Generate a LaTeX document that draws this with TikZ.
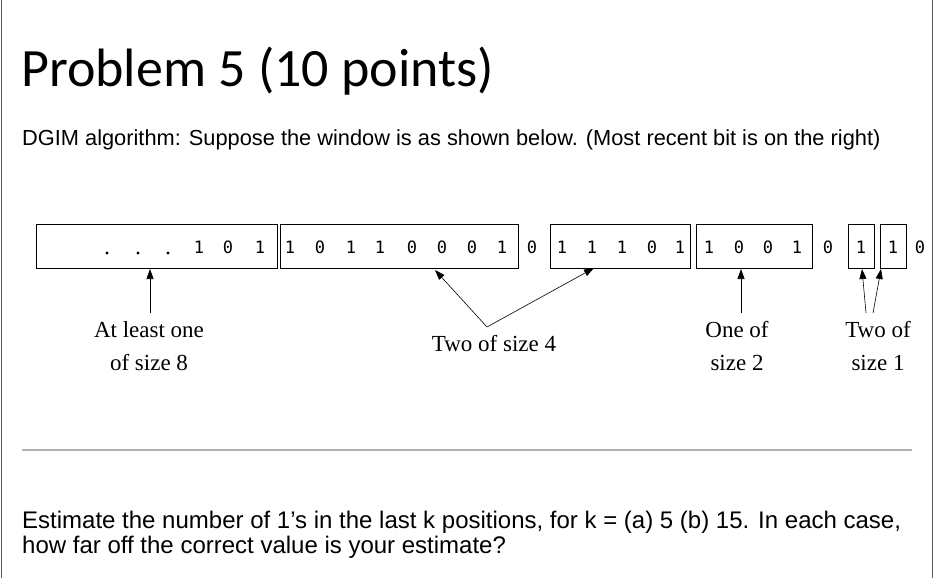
\documentclass[tikz,border=0pt]{standalone}
\usepackage{fontspec}
\setmainfont{Liberation Serif}
\newfontfamily\titlefont{Carlito}
\newfontfamily\arialfont{Liberation Sans}
\newfontfamily\monofont{DejaVu Sans Mono}
\usetikzlibrary{arrows.meta}
\begin{document}
\begin{tikzpicture}[x=1pt,y=-1pt,
  bitbox/.style={draw,line width=0.9pt,inner sep=0pt,anchor=north west},
  bits/.style={font=\monofont\fontsize{17}{17}\selectfont,inner sep=0pt},
  lab/.style={font=\fontsize{23}{33}\selectfont,align=center,inner sep=0pt},
  arr/.style={-{Triangle[length=10pt,width=7pt]},line width=0.6pt},
  body/.style={font=\arialfont\fontsize{21.8}{22}\selectfont,anchor=base west,inner sep=0pt,align=left}]
\useasboundingbox (0,0) rectangle (936,578);
\draw[line width=0.8pt,gray!70!black] (1,0) -- (1,578);
\draw[line width=0.8pt,gray!70!black] (932,0) -- (932,578);
\node[font=\titlefont\fontsize{54}{54}\selectfont,anchor=base west,inner sep=0pt] (title) at (21,86) {Problem 5 (10 points)};
\node[body] (intro) at (22,145) {DGIM algorithm: Suppose the window is as shown below. (Most recent bit is on the right)};
% boxes
\node[bitbox,minimum width=241pt,minimum height=44pt] (b8) at (36,224) {};
\node[bitbox,minimum width=238pt,minimum height=44pt] (b4a) at (280,224) {};
\node[bitbox,minimum width=140pt,minimum height=44pt] (b4b) at (550,224) {};
\node[bitbox,minimum width=116pt,minimum height=44pt] (b2) at (696,224) {};
\node[bitbox,minimum width=26pt,minimum height=44pt] (b1a) at (848,224) {};
\node[bitbox,minimum width=26pt,minimum height=44pt] (b1b) at (880,224) {};
\foreach \x [count=\i] in {107,138,168}
  \fill (\x,253) circle (1.7pt);
\foreach \x/\t [count=\i] in {199/1,228/0,260/1,290/1,320/0,351/1,380/1,412/0,442/0,472/0,502/1,532/0,562/1,592/1,622/1,652/0,680/1,709/1,739/0,768/0,797/1,828/0,861/1,893/1,920/0}
  \node[bits] (t\i) at (\x,247) {\t};
% labels
\node[lab] (l8) at (149,346) {At least one\\of size 8};
\node[lab] (l4) at (494,344) {Two of size 4};
\node[lab] (l2) at (737,346) {One of\\size 2};
\node[lab] (l1) at (878,346) {Two of\\size 1};
\coordinate (s8) at (150,313);
\coordinate (s4) at (487,327);
\coordinate (s2) at (741,313);
\coordinate (s1a) at (866,313);
\coordinate (s1b) at (873,313);
\draw[arr] (s8) -- (150,269);
\draw[arr] (s4) -- (435,270);
\draw[arr] (s4) -- (594,268);
\draw[arr] (s2) -- (741,269);
\draw[arr] (s1a) -- (862,269);
\draw[arr] (s1b) -- (881,269);
\draw[line width=2.5pt,gray!60] (22,450) -- (912,450);
\node[body,font=\arialfont\fontsize{24}{25}\selectfont] (q) at (22,553) {Estimate the number of 1’s in the last k positions, for k = (a) 5 (b) 15. In each case,\\how far off the correct value is your estimate?};
\end{tikzpicture}
\end{document}
